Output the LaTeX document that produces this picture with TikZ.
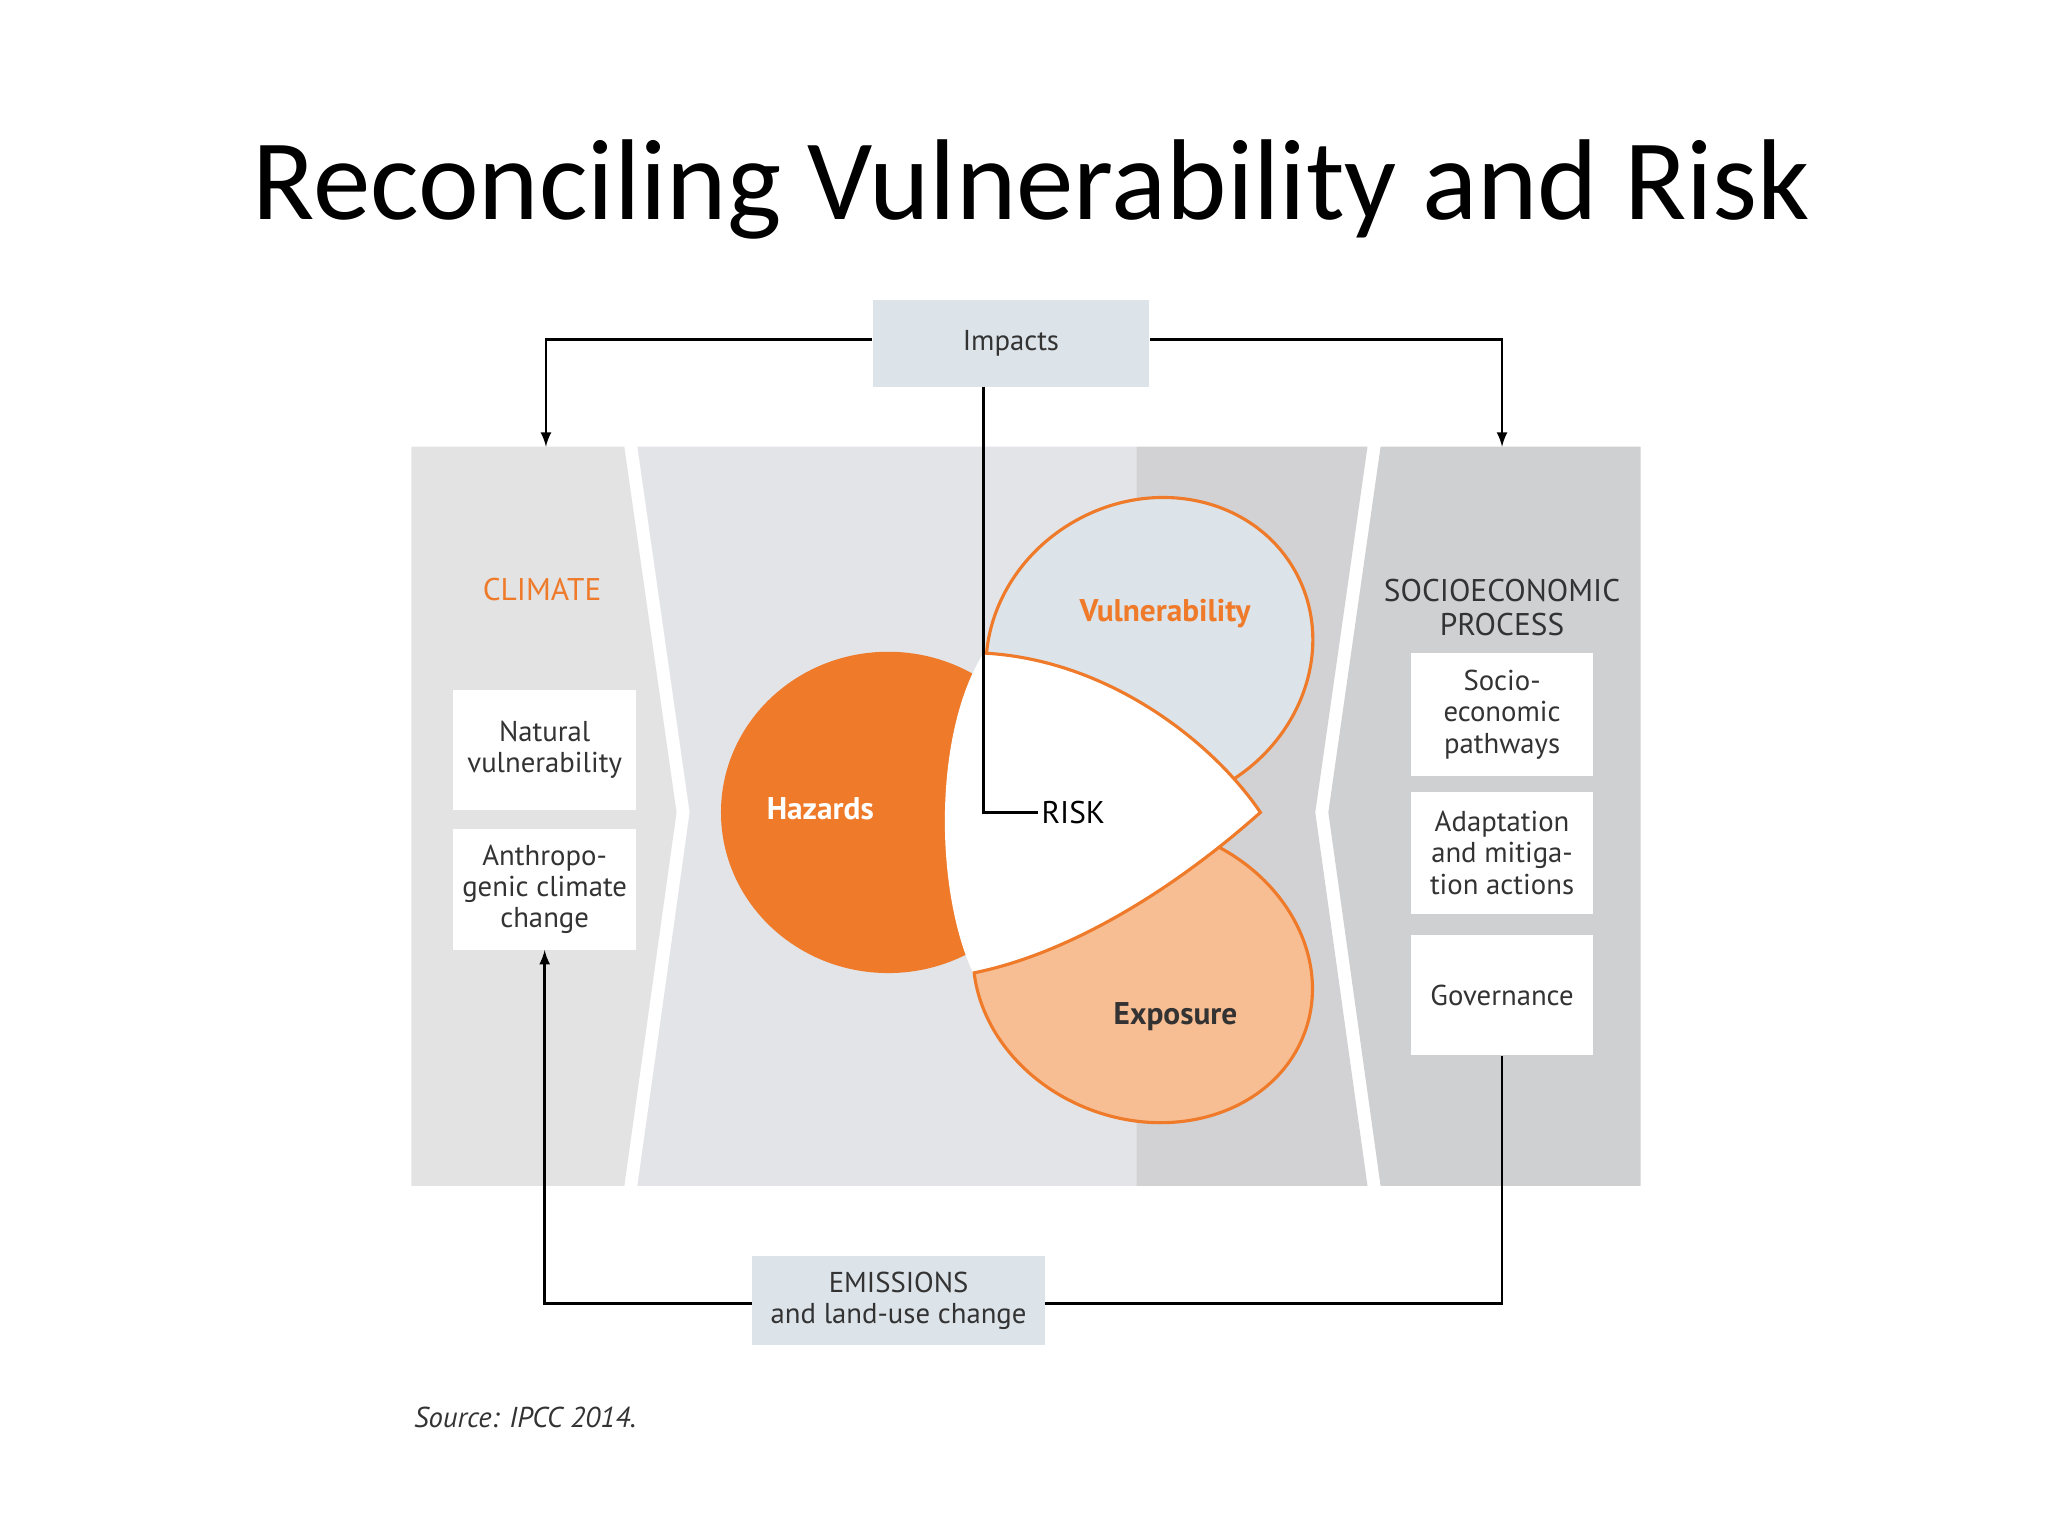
\documentclass[tikz,border=0pt]{standalone}
\usepackage{fontspec}
\setmainfont{PT Sans}
\newfontfamily\titlefont{Carlito}
\definecolor{orA}{HTML}{EE7A2A}
\definecolor{orL}{HTML}{F8BE93}
\definecolor{blL}{HTML}{DCE3E9}
\definecolor{gA}{HTML}{E3E3E3}
\definecolor{gB}{HTML}{E2E4E7}
\definecolor{gC}{HTML}{D2D2D4}
\definecolor{gD}{HTML}{CFD0D2}
\definecolor{txt}{HTML}{333333}
\tikzset{wbox/.style={fill=white,minimum width=70pt,align=center,font=\fontsize{11}{12}\selectfont,text=txt,inner sep=1pt},
 conn/.style={line width=0.9pt,-latex}}
\begin{document}
\begin{tikzpicture}[x=0.5pt,y=-0.5pt]
\useasboundingbox (0,0) rectangle (1568,1176);
\node[font=\titlefont\fontsize{44}{48}\selectfont] (title) at (790,145) {Reconciling Vulnerability and Risk};
% panels
\fill[gA] (315,342)--(478,342)--(518,622)--(478,908)--(315,908)--cycle;
\fill[gB] (488,342)--(870,342)--(870,908)--(488,908)--(528,622)--cycle;
\fill[gC] (870,342)--(1047,342)--(1007,622)--(1047,908)--(870,908)--cycle;
\fill[gD] (1057,342)--(1256,342)--(1256,908)--(1057,908)--(1017,622)--cycle;
% petals
\fill[orA] (680,622) ellipse [x radius=128, y radius=123];
\draw[orA,line width=1.2pt,fill=blL] (880,500) ellipse [x radius=128, y radius=116, rotate=30];
\draw[orA,line width=1.2pt,fill=orL] (875,745) ellipse [x radius=132, y radius=112, rotate=-20];
\fill[white] (753,500) .. controls (850,505) and (930,570) .. (965,622) .. controls (900,680) and (820,730) .. (745,745) .. controls (715,680) and (715,560) .. (753,500);
\draw[orA,line width=1.2pt] (753,500) .. controls (850,505) and (930,570) .. (965,622) .. controls (900,680) and (820,730) .. (745,745);
\node[font=\bfseries\fontsize{12}{12}\selectfont,text=white] (haz) at (628,619) {Hazards};
\node[font=\bfseries\fontsize{12}{12}\selectfont,text=orA] (vul) at (892,470) {Vulnerability};
\node[font=\bfseries\fontsize{12}{12}\selectfont,text=txt] (exp) at (900,778) {Exposure};
\node[font=\fontsize{12}{12}\selectfont,anchor=west,inner sep=1pt] (risk) at (795,622) {RISK};
% impacts
\node[fill=blL,minimum width=106pt,minimum height=33pt,font=\fontsize{11}{12}\selectfont,text=txt] (imp) at (774,263) {Impacts};
\coordinate (cl) at (418,342);
\coordinate (cr) at (1150,342);
\draw[conn] (imp.west|-0,260) -| (cl);
\draw[conn] (imp.east|-0,260) -| (cr);
\draw[line width=0.9pt] (753,296) |- (risk.west);
% left
\node[font=\fontsize{12}{12}\selectfont,text=orA] (clim) at (415,451) {CLIMATE};
\node[wbox,minimum height=46pt] (nat) at (417,574) {Natural\\vulnerability};
\node[wbox,minimum height=46pt] (ant) at (417,681) {Anthropo-\\genic climate\\change};
% right
\node[font=\fontsize{12}{13}\selectfont,text=txt,align=center] (soc) at (1150,465) {SOCIOECONOMIC\\PROCESS};
\node[wbox,minimum height=47pt] (sp) at (1150,547) {Socio-\\economic\\pathways};
\node[wbox,minimum height=47pt] (ad) at (1150,653) {Adaptation\\and mitiga-\\tion actions};
\node[wbox,minimum height=46pt] (gov) at (1150,762) {Governance};
% emissions
\node[fill=blL,minimum width=112pt,minimum height=34pt,align=center,font=\fontsize{11}{12}\selectfont,text=txt,inner sep=1pt] (em) at (688,996) {EMISSIONS\\and land-use change};
\draw[line width=0.9pt] (gov.south) |- (em.east|-0,998);
\draw[conn] (em.west|-0,998) -| (ant.south);
\node[font=\itshape\fontsize{11}{12}\selectfont,text=txt,anchor=west] (src) at (310,1085) {Source: IPCC 2014.};
\end{tikzpicture}
\end{document}
